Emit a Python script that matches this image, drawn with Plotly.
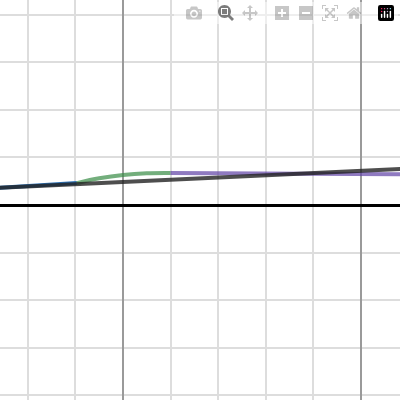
import plotly.graph_objects as go

blue_x = [-2.6, -0.97]
blue_y = [0.36, 0.46]
green_x = [-0.97, -0.5, 0.0, 0.5, 1.0]
green_y = [0.46, 0.56, 0.63, 0.665, 0.67]
purple_x = [1.0, 5.9]
purple_y = [0.67, 0.645]
black_x = [-2.6, 5.9]
black_y = [0.36, 0.76]

fig = go.Figure()
fig.add_trace(go.Scatter(x=blue_x, y=blue_y, mode="lines", line=dict(color="#2d70b3", width=4)))
fig.add_trace(go.Scatter(x=green_x, y=green_y, mode="lines", line=dict(color="#388c46", width=4, shape="spline"), opacity=0.7))
fig.add_trace(go.Scatter(x=purple_x, y=purple_y, mode="lines", line=dict(color="#6042a6", width=4), opacity=0.7))
fig.add_trace(go.Scatter(x=black_x, y=black_y, mode="lines", line=dict(color="#222222", width=4), opacity=0.8))

axis_common = dict(showticklabels=False, ticks="", dtick=5, gridcolor="#9a9a9a", gridwidth=1.5,
                   minor=dict(dtick=1, showgrid=True, gridcolor="#dddddd", gridwidth=1.5),
                   showline=False)
fig.update_xaxes(range=[-123/47.6, 277/47.6], zeroline=False, **axis_common)
fig.update_yaxes(range=[-195/47.6, 205/47.6], zeroline=True, zerolinecolor="black", zerolinewidth=3, **axis_common)
fig.update_layout(width=400, height=400, margin=dict(l=0, r=0, t=0, b=0), showlegend=False,
                  plot_bgcolor="white", paper_bgcolor="white")
fig.write_html("out.html", post_script="document.body.style.margin='0';")
